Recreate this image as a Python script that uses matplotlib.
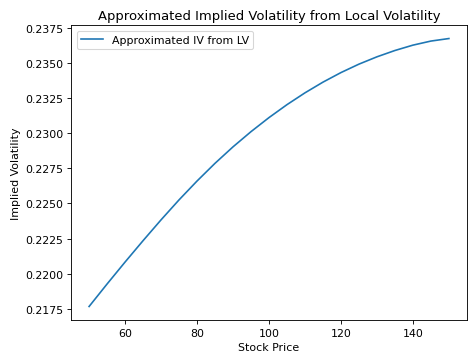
import numpy as np
import matplotlib
matplotlib.use("Agg")
import matplotlib.pyplot as plt

# values
stock_price = [50, 55, 60, 65, 70, 75, 80, 85, 90, 95, 100,
               105, 110, 115, 120, 125, 130, 135, 140, 145, 150]
implied_vol = [0.21767, 0.21927, 0.22083, 0.22235, 0.22383, 0.22525, 0.22659,
               0.22785, 0.22902, 0.23010, 0.23110, 0.23202, 0.23286, 0.23362,
               0.23430, 0.23490, 0.23542, 0.23587, 0.23625, 0.23654, 0.23672]

DPI = 79
fig = plt.figure(figsize=(474 / DPI, 363 / DPI), dpi=DPI)
ax = fig.add_axes([0.150, 0.116, 0.835, 0.812])

ax.plot(stock_price, implied_vol, label="Approximated IV from LV")
ax.set_xlabel("Stock Price")
ax.set_ylabel("Implied Volatility")
ax.set_title("Approximated Implied Volatility from Local Volatility")
ax.legend(loc="upper left")

fig.savefig("out.png", dpi=DPI)
